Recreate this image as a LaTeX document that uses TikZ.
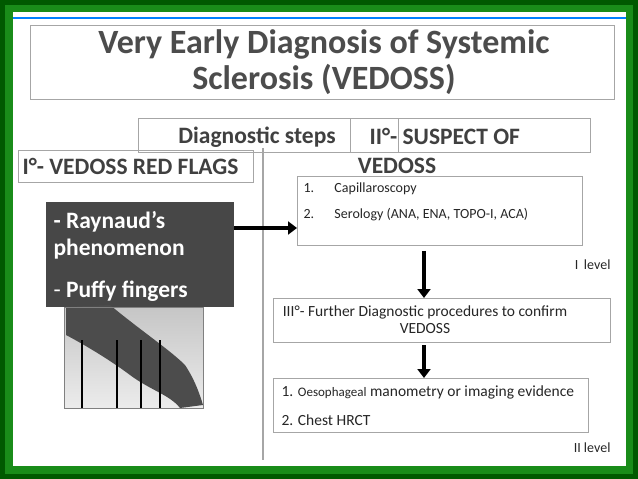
\documentclass[tikz,border=0pt]{standalone}
\usepackage{fontspec}
\setmainfont{Carlito}
\usetikzlibrary{arrows.meta}
\begin{document}
\begin{tikzpicture}[x=1pt,y=-1pt,
  box/.style={draw=gray!70,line width=0.8pt},
  big/.style={font=\bfseries\fontsize{23.5}{26}\selectfont,text=black!75},
  sm/.style={font=\fontsize{14}{16}\selectfont,text=black!85,anchor=west},
  arr/.style={line width=3.5pt,-{Triangle[length=9pt,width=13pt]}}]
\useasboundingbox (0,0) rectangle (638,479);
\fill[green!35!black] (0,0) rectangle (638,479);
\fill[green!50!black!90] (5,5) rectangle (633,474);
\fill[white] (13,12) rectangle (626,466);
\draw[blue!50!cyan,line width=1.5pt] (13,18) -- (626,18);
\node[box,minimum width=584pt,minimum height=74pt,anchor=north west] (title) at (30,25) {};
\node[font=\bfseries\fontsize{34}{36}\selectfont,text=black!70,align=center] (tt) at (324,62) {Very Early Diagnosis of Systemic\\Sclerosis (VEDOSS)};
\node[box,minimum width=260pt,minimum height=34pt,anchor=north west] (ds) at (138,118) {};
\node[box,minimum width=240pt,minimum height=34pt,anchor=north west] (sus) at (350,118) {};
\node[box,minimum width=235pt,minimum height=32pt,anchor=north west] (rf) at (18,150) {};
\node[big] (dst) at (257,137) {Diagnostic steps};
\node[big,anchor=west] (st) at (366,136) {II°- SUSPECT OF};
\node[big] (ve) at (397,166) {VEDOSS};
\node[big,anchor=west] (rft) at (19,166) {I°- VEDOSS RED FLAGS};
\coordinate (vt) at (263,148); \coordinate (vb) at (263,460);
\draw[gray!70,line width=1.2pt] (vt) -- (vb);
\node[fill=black!72,minimum width=188pt,minimum height=105pt,anchor=north west] (dark) at (46,202) {};
\node[font=\bfseries\fontsize{23.5}{26}\selectfont,text=white,anchor=west] (r1) at (50,222) {- Raynaud’s};
\node[font=\bfseries\fontsize{23.5}{26}\selectfont,text=white,anchor=west] (r2) at (50,249) {phenomenon};
\node[font=\fontsize{23.5}{26}\selectfont,text=white,anchor=west] (r3) at (50,291) {- \textbf{Puffy fingers}};
% flag picture
\shade[top color=gray!45,bottom color=gray!15] (64,307) rectangle (203,408);
\fill[black!70] (66,307) -- (110,305) .. controls (140,330) and (170,350) .. (185,365) .. controls (195,380) and (200,395) .. (203,405) -- (180,408) .. controls (170,395) and (150,390) .. (130,375) .. controls (110,360) and (85,345) .. (66,335) -- cycle;
\foreach \px in {82,117,141,160} \draw[black,line width=1.2pt] (\px,340) -- (\px,408);
\draw[gray] (64,307) rectangle (203,408);
\node[box,minimum width=285pt,minimum height=69pt,anchor=north west] (b1) at (297,176) {};
\node[sm] (i1) at (300,189) {1.\quad\ \ Capillaroscopy};
\node[sm] (i2) at (300,215) {2.\quad\ \ Serology (ANA, ENA, TOPO-I, ACA)};
\draw[arr] (dark.north east |- 0,228) -- (b1.west |- 0,228);
\node[box,minimum width=337pt,minimum height=44pt,anchor=north west] (b3) at (273,298) {};
\node[font=\fontsize{15.5}{17}\selectfont,align=center,text=black!85] (t3) at (425,320) {III°- Further Diagnostic procedures to confirm\\VEDOSS};
\draw[arr] (b1.south -| 424,0) ++(0,5) coordinate (a1) (a1) -- (b3.north -| 424,0);
\node[box,minimum width=315pt,minimum height=54pt,anchor=north west] (b4) at (273,378) {};
\draw[arr] (424,345) coordinate (a2) -- (b4.north -| 424,0);
\node[sm,font=\fontsize{15.5}{17}\selectfont] (j1) at (278,392) {1. {\fontsize{13}{15}\selectfont Oesophageal} manometry or imaging evidence};
\node[sm,font=\fontsize{15.5}{17}\selectfont] (j2) at (278,420) {2. Chest HRCT};
\node[sm,anchor=east,font=\fontsize{14}{16}\selectfont] (l1) at (614,265) {I\, level};
\node[sm,anchor=east,font=\fontsize{14}{16}\selectfont] (l2) at (614,448) {II level};
\end{tikzpicture}
\end{document}
